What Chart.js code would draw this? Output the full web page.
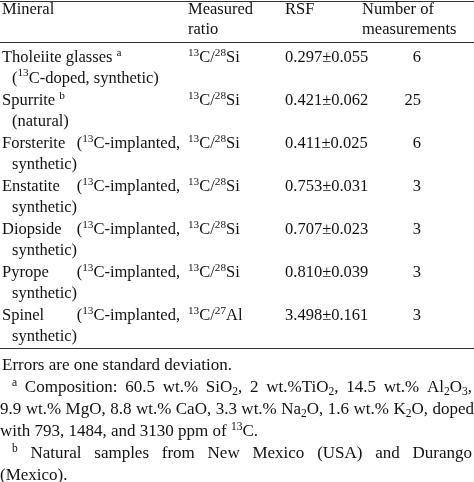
<!DOCTYPE html>
<html>
<head>
<meta charset="utf-8">
<script src="https://cdn.jsdelivr.net/npm/chart.js@4/dist/chart.umd.min.js"></script>
<style>
  html, body { margin: 0; padding: 0; background: #fff; }
  #wrap { width: 474px; height: 482px; }
</style>
</head>
<body>
<div id="wrap"><canvas id="tbl"></canvas></div>
<script>
// table content, segments: [text, mode] where mode 0 normal, 1 superscript, 2 subscript
const headers = [['Mineral'], ['Measured', 'ratio'], ['RSF'], ['Number of', 'measurements']];
const mineralNames = [
  [['Tholeiite glasses ', 0], ['a', 1]],
  [['Spurrite ', 0], ['b', 1]],
  [['Forsterite', 0]],
  [['Enstatite', 0]],
  [['Diopside', 0]],
  [['Pyrope', 0]],
  [['Spinel', 0]]
];
const mineralTails = [null, null, 'impl', 'impl', 'impl', 'impl', 'impl'];
const secondLines = [
  [['(', 0], ['13', 1], ['C-doped, synthetic)', 0]],
  [['(natural)', 0]],
  [['synthetic)', 0]],
  [['synthetic)', 0]],
  [['synthetic)', 0]],
  [['synthetic)', 0]],
  [['synthetic)', 0]]
];
const ratioIsotopes = [['13', 'C', '28', 'Si'], ['13', 'C', '28', 'Si'], ['13', 'C', '28', 'Si'], ['13', 'C', '28', 'Si'],
  ['13', 'C', '28', 'Si'], ['13', 'C', '28', 'Si'], ['13', 'C', '27', 'Al']];
const rsfValues = ['0.297', '0.421', '0.411', '0.753', '0.707', '0.810', '3.498'];
const rsfErrors = ['0.055', '0.062', '0.025', '0.031', '0.023', '0.039', '0.161'];
const measurementCounts = ['6', '25', '6', '3', '3', '3', '3'];
const footnotes = [
  [['Errors are one standard deviation.', 0]],
  [['a', 1], [' Composition: 60.5 wt.% SiO', 0], ['2', 2], [', 2 wt.%TiO', 0], ['2', 2], [', 14.5 wt.% Al', 0], ['2', 2], ['O', 0], ['3', 2], [',', 0]],
  [['9.9 wt.% MgO, 8.8 wt.% CaO, 3.3 wt.% Na', 0], ['2', 2], ['O, 1.6 wt.% K', 0], ['2', 2], ['O, doped', 0]],
  [['with 793, 1484, and 3130 ppm of ', 0], ['13', 1], ['C.', 0]],
  [['b', 1], [' Natural samples from New Mexico (USA) and Durango', 0]],
  [['(Mexico).', 0]]
];
const footIndent = [2, 12, 0, 0, 12, 0];
const footJustify = [null, 472, 474, null, 472, null];

const FS = 16.5;
const FONT = '"Liberation Serif", "DejaVu Serif", serif';

function segWidth(ctx, segs, fs) {
  let w = 0;
  for (const [t, m] of segs) {
    ctx.font = (m ? fs * 0.68 : fs) + 'px ' + FONT;
    w += ctx.measureText(t).width;
  }
  return w;
}
function drawSegs(ctx, segs, x, y, align, fs, justifyTo) {
  fs = fs || FS;
  let w = segWidth(ctx, segs, fs);
  if (align === 'center') x -= w / 2;
  if (align === 'right') x -= w;
  let gap = 0;
  if (justifyTo) {
    let n = 0;
    segs.forEach(([t, m]) => { if (!m) n += (t.match(/ /g) || []).length; });
    if (n) gap = Math.max(0, (justifyTo - x - w) / n);
  }
  ctx.textBaseline = 'middle';
  ctx.textAlign = 'left';
  for (const [t, m] of segs) {
    ctx.font = (m ? fs * 0.68 : fs) + 'px ' + FONT;
    const dy = m === 1 ? -5 : m === 2 ? 4 : 0;
    if (!m && gap) {
      const parts = t.split(' ');
      parts.forEach((p, k) => {
        ctx.fillText(p, x, y);
        x += ctx.measureText(p).width;
        if (k < parts.length - 1) x += ctx.measureText(' ').width + gap;
      });
    } else {
      ctx.fillText(t, x, y + dy);
      x += ctx.measureText(t).width;
    }
  }
}

const tablePlugin = {
  id: 'tablePlugin',
  afterDraw(chart) {
    const ctx = chart.ctx;
    const xs = chart.scales.x, ys = chart.scales.y;
    const X = v => xs.getPixelForValue(v), Y = v => ys.getPixelForValue(v);
    ctx.save();
    ctx.fillStyle = '#111';
    ctx.strokeStyle = '#333';
    ctx.lineWidth = 1;
    [1, 42, 348].forEach(r => {
      ctx.beginPath(); ctx.moveTo(X(0), Y(r) + 0.5); ctx.lineTo(X(474), Y(r) + 0.5); ctx.stroke();
    });
    // headers
    const hx = [2, 188, 285, 362];
    headers.forEach((h, i) => h.forEach((line, j) => drawSegs(ctx, [[line, 0]], X(hx[i]), Y(10 + j * 20), 'left')));
    // body rows
    for (let i = 0; i < mineralNames.length; i++) {
      const y1 = 58 + i * 43, y2 = y1 + 20.5;
      drawSegs(ctx, mineralNames[i], X(2), Y(y1), 'left');
      if (mineralTails[i]) drawSegs(ctx, [['(', 0], ['13', 1], ['C-implanted,', 0]], X(180), Y(y1), 'right');
      drawSegs(ctx, secondLines[i], X(12), Y(y2), 'left');
      const iso = ratioIsotopes[i];
      drawSegs(ctx, [[iso[0], 1], [iso[1] + '/', 0], [iso[2], 1], [iso[3], 0]], X(188), Y(y1), 'left');
      drawSegs(ctx, [[rsfValues[i] + '\u00b1' + rsfErrors[i], 0]], X(285), Y(y1), 'left');
      drawSegs(ctx, [[measurementCounts[i], 0]], X(421), Y(y1), 'right');
    }
    footnotes.forEach((f, i) => drawSegs(ctx, f, X(footIndent[i]), Y(366 + i * 22), 'left', 17,
      footJustify[i] ? X(footJustify[i]) : null));
    ctx.restore();
  }
};

new Chart(document.getElementById('tbl'), {
  type: 'scatter',
  data: { datasets: [{ data: [], pointRadius: 0 }] },
  options: {
    responsive: true,
    maintainAspectRatio: false,
    animation: false,
    layout: { padding: 0 },
    plugins: { legend: { display: false }, tooltip: { enabled: false } },
    scales: {
      x: { type: 'linear', min: 0, max: 474, display: false },
      y: { type: 'linear', min: 0, max: 482, reverse: true, display: false }
    }
  },
  plugins: [tablePlugin]
});
</script>
</body>
</html>
